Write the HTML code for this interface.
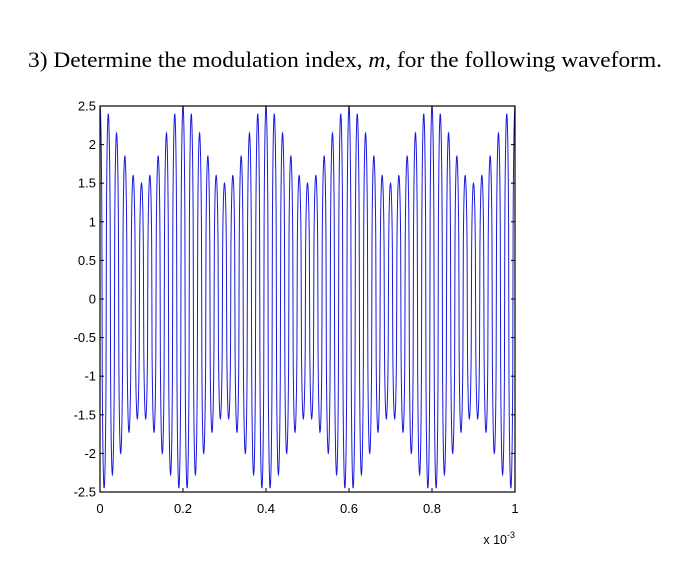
<!DOCTYPE html>
<html><head><meta charset="utf-8"><style>
body{margin:0;background:#fff;}
svg{display:block;}
text{font-family:"Liberation Sans",Arial,sans-serif;}
</style></head>
<body>
<svg id="chart" width="700" height="588" viewBox="0 0 700 588">
<text x="28" y="67" font-family="Liberation Serif" font-size="22" textLength="634" lengthAdjust="spacingAndGlyphs" style="font-family:'Liberation Serif',serif">3)  Determine the modulation index, <tspan font-style="italic">m</tspan>, for the following waveform.</text>
<g id="plot"></g>
</svg>
<script>
// peak amplitude at each carrier cycle (t = k * 0.02 ms)
const peakAmps = [2.5,2.4,2.15,1.85,1.6,1.5,1.6,1.85,2.15,2.4,
                  2.5,2.4,2.15,1.85,1.6,1.5,1.6,1.85,2.15,2.4,
                  2.5,2.4,2.15,1.85,1.6,1.5,1.6,1.85,2.15,2.4,
                  2.5,2.4,2.15,1.85,1.6,1.5,1.6,1.85,2.15,2.4,
                  2.5,2.4,2.15,1.85,1.6,1.5,1.6,1.85,2.15,2.4,2.5];
const cyclePeriod = [0.02]; // ms
const xTicks = [0,0.2,0.4,0.6,0.8,1];
const xTickLabels = ["0","0.2","0.4","0.6","0.8","1"];
const yTicks = [2.5,2,1.5,1,0.5,0,-0.5,-1,-1.5,-2,-2.5];
const yTickLabels = ["2.5","2","1.5","1","0.5","0","-0.5","-1","-1.5","-2","-2.5"];

const L=100,R=515,T=106,B=492;
const xs=v=>L+(v-0)/(1-0)*(R-L);
const ys=v=>B-(v+2.5)/5*(B-T);
const NS="http://www.w3.org/2000/svg";
const g=document.getElementById('plot');
function mk(tag,attrs){const e=document.createElementNS(NS,tag);for(const k in attrs)e.setAttribute(k,attrs[k]);g.appendChild(e);return e;}

// waveform (steep edges, sharp peaks)
let d="";
const P=cyclePeriod[0];
const steps=peakAmps.length-1;
for(let k=0;k<steps;k++){
  for(let j=0;j<40;j++){
    const f=j/40;
    const a=peakAmps[k]*(1-f)+peakAmps[k+1]*f;
    const t=(k+f)*P;
    const c=Math.cos(2*Math.PI*f);
    const y=a*Math.sign(c)*Math.pow(Math.abs(c),0.45);
    d+=(d?"L":"M")+xs(t).toFixed(2)+","+ys(y).toFixed(2);
  }
}
d+="L"+xs(steps*P).toFixed(2)+","+ys(peakAmps[steps]).toFixed(2);
const wave=mk('path',{d:d,fill:'none',stroke:'#1a1ae0','stroke-width':'1'});



// frame
const fr=mk('rect',{x:L,y:T,width:R-L,height:B-T,fill:'none',stroke:'#000','stroke-width':'1.2'});



xTicks.forEach((v,i)=>{
  const x=xs(v);
  const t1=mk('line',{x1:x,x2:x,y1:B,y2:B-4,stroke:'#000'});
  
  
  const t2=mk('line',{x1:x,x2:x,y1:T,y2:T+4,stroke:'#000'});
  
  
  const lb=mk('text',{x:x,y:B+21,'text-anchor':'middle','font-size':'13'});
  lb.textContent=xTickLabels[i];
  
  
});
yTicks.forEach((v,i)=>{
  const y=ys(v);
  const t1=mk('line',{x1:L,x2:L+4,y1:y,y2:y,stroke:'#000'});
  
  
  const t2=mk('line',{x1:R,x2:R-4,y1:y,y2:y,stroke:'#000'});
  
  
  const lb=mk('text',{x:L-4,y:y+4.5,'text-anchor':'end','font-size':'13'});
  lb.textContent=yTickLabels[i];
  
  
});
const ex=mk('text',{x:R,y:B+52,'text-anchor':'end','font-size':'12.5'});
ex.innerHTML='x 10<tspan dy="-6" font-size="9">-3</tspan>';


</script>
</body></html>
